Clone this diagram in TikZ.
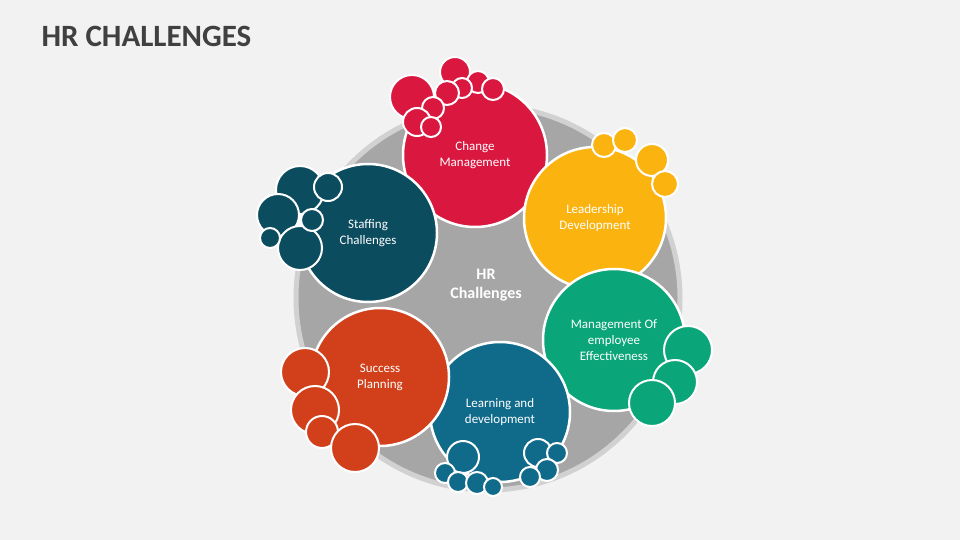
\documentclass[tikz,border=0pt]{standalone}
\usepackage{fontspec}
\setmainfont{Carlito}
\definecolor{bg}{HTML}{F2F2F2}
\definecolor{cr}{HTML}{D9173F}
\definecolor{yl}{HTML}{FBB40F}
\definecolor{gr}{HTML}{0AA578}
\definecolor{bl}{HTML}{106A8A}
\definecolor{or}{HTML}{D1401A}
\definecolor{dk}{HTML}{0B4C5F}
\begin{document}
\begin{tikzpicture}[x=1pt,y=-1pt,
 bub/.style={draw=white,line width=2pt},
 big/.style={circle,draw=white,line width=2.5pt,text=white,align=center,font=\fontsize{13}{16}\selectfont,minimum size=#1*2pt,inner sep=0pt}]
\fill[bg] (0,0) rectangle (960,540);
\useasboundingbox (0,0) rectangle (960,540);
\node[anchor=west,font=\bfseries\fontsize{31}{34}\selectfont,text=black!75] (title) at (38,36) {HR CHALLENGES};
\node[circle,fill=black!35,draw=black!18,line width=5pt,minimum size=384pt,inner sep=0pt] (hub) at (488,298) {};
\node[font=\bfseries\fontsize{16}{19}\selectfont,text=white,align=center] (hubt) at (486,285) {HR\\Challenges};
\node[big=72,fill=cr] (c1) at (475,155) {Change\\Management};
\node[big=71,fill=yl] (c2) at (595,218) {Leadership\\Development};
\node[big=71,fill=gr] (c3) at (614,340) {Management Of\\employee\\Effectiveness};
\node[big=70,fill=bl] (c4) at (500,412) {Learning and\\development};
\node[big=69,fill=or] (c5) at (380,377) {Success\\Planning};
\node[big=69,fill=dk] (c6) at (368,233) {Staffing\\Challenges};
\foreach \x/\y/\r in {412/97/22,455/72/15,478/82/11,493/89/11,462/88/10,447/93/12,433/108/11,417/122/14,431/127/10}
 \filldraw[cr,bub] (\x,\y) circle (\r);
\foreach \x/\y/\r in {604/145/12,625/140/12,652/160/16,665/184/13}
 \filldraw[yl,bub] (\x,\y) circle (\r);
\foreach \x/\y/\r in {688/350/24,675/382/22,652/403/23}
 \filldraw[gr,bub] (\x,\y) circle (\r);
\foreach \x/\y/\r in {463/457/16,538/453/14,557/453/10,547/470/11,530/477/10,445/473/10,458/482/10,477/483/11,493/487/9}
 \filldraw[bl,bub] (\x,\y) circle (\r);
\foreach \x/\y/\r in {305/372/24,315/410/24,322/432/16,355/448/24}
 \filldraw[or,bub] (\x,\y) circle (\r);
\foreach \x/\y/\r in {300/190/24,328/187/14,278/215/21,300/248/22,312/220/11,270/238/10}
 \filldraw[dk,bub] (\x,\y) circle (\r);
\end{tikzpicture}
\end{document}
